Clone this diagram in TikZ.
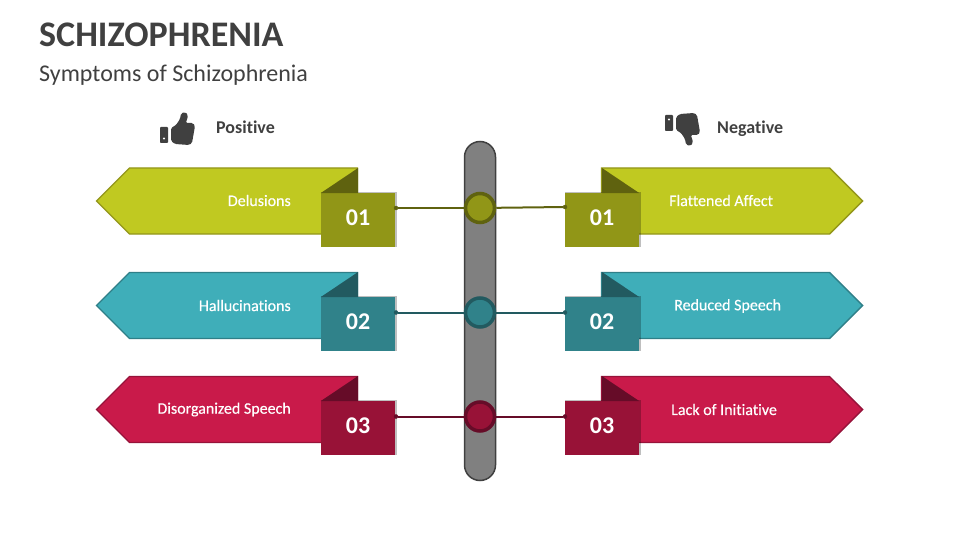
\documentclass[tikz,border=0pt]{standalone}
\usepackage{fontspec}
\setmainfont[Ligatures=NoCommon]{Carlito}
\newfontfamily\itemfont[Ligatures=NoCommon,FakeBold=0.35]{Carlito}
\usepackage{tikz}
\usetikzlibrary{positioning,shapes.symbols,shadows}
\definecolor{limeclr}{HTML}{C0C921}
\definecolor{limeedge}{HTML}{93961A}
\definecolor{limebox}{HTML}{919617}
\definecolor{limedark}{HTML}{5F620F}
\definecolor{tealclr}{HTML}{3FAEB9}
\definecolor{tealedge}{HTML}{2F7F88}
\definecolor{tealbox}{HTML}{30828A}
\definecolor{tealdark}{HTML}{225A60}
\definecolor{redclr}{HTML}{C91A4A}
\definecolor{rededge}{HTML}{96133A}
\definecolor{redbox}{HTML}{981237}
\definecolor{reddark}{HTML}{660C28}
\definecolor{inkclr}{HTML}{404040}
\tikzset{ %
  ,x=1pt,y=-1pt
  ,title/.style={anchor=west, inner sep=0, font=\bfseries\fontsize{36}{36}\selectfont, text=inkclr}
  ,subtitle/.style={anchor=west, inner sep=0, font=\fontsize{24}{24}\selectfont, text=inkclr}
  ,head/.style={anchor=west, inner sep=0, font=\bfseries\fontsize{18}{18}\selectfont, text=inkclr}
  ,bannerL/.style={draw=#1edge, fill=#1clr, line width=1.4pt, shape=signal, signal to=west, signal from=nowhere, signal pointer angle=90, inner sep=0, minimum width=261pt, minimum height=66pt}
  ,bannerR/.style={draw=#1edge, fill=#1clr, line width=1.4pt, shape=signal, signal to=east, signal from=nowhere, signal pointer angle=90, inner sep=0, minimum width=261pt, minimum height=66pt}
  ,numbox/.style={fill=#1box, inner sep=0, minimum width=74pt, minimum height=53.5pt, text=white, font=\bfseries\fontsize{24}{24}\selectfont, drop shadow={shadow xshift=.6pt, shadow yshift=.6pt, shadow scale=1.03, fill=black, opacity=.25}}
  ,itemL/.style={anchor=east, inner sep=0, text=white, font=\itemfont\fontsize{16}{16}\selectfont}
  ,itemR/.style={anchor=west, inner sep=0, text=white, font=\itemfont\fontsize{16}{16}\selectfont}
  ,dot/.style={draw=#1dark, fill=#1dark, circle, inner sep=0, minimum size=4pt}
  ,hub/.style={draw=#1dark, fill=#1box, circle, line width=3.5pt, inner sep=0, minimum size=29pt}
  ,link/.style={draw=#1dark, line width=2pt}
  ,fold/.style={fill=#1dark}
  ,bar/.style={draw=inkclr, fill=gray, line width=1.5pt, rounded corners=15.5pt, inner sep=0, minimum width=31pt, minimum height=339pt}
}
\newcommand{\thumbicon}{%
  \fill[inkclr, rounded corners=.8pt] (160,127) rectangle (168,143);
  \fill[white] (164,138.5) circle (1.2);
  \fill[inkclr, rounded corners=1.5pt] (171,128) -- (176,125) -- (180,119) -- (181,113.5) -- (185,112) -- (188,115) -- (187,120) -- (185.5,123) -- (193,123) -- (195,126) -- (192,143) -- (189,145) -- (175,144) -- (171,141) -- cycle;
}

\begin{document}
\begin{tikzpicture}
  \useasboundingbox (0,0) rectangle (960,540);
  \node[title] (ttl) at (39,35) {SCHIZOPHRENIA};
  \node[subtitle] (sub) at (39,75.5) {Symptoms of Schizophrenia};
  \thumbicon
  \begin{scope}[shift={(505,258)},yscale=-1]
    \thumbicon
  \end{scope}
  \node[head] (pos) at (216,127.5) {Positive};
  \node[head] (neg) at (717,129) {Negative};
  \node[bar] (axis) at (480,311) {};

  % banners
  \draw
  node[bannerL=lime] (bL1) at (243.5,201) {}
  node[bannerL=teal] (bL2) at (243.5,305.5) {}
  node[bannerL=red] (bL3) at (243.5,409.5) {}
  node[bannerR=lime] (bR1) at (715.5,201) {}
  node[bannerR=teal] (bR2) at (715.5,305.5) {}
  node[bannerR=red] (bR3) at (715.5,409.5) {};

  % number boxes
  \draw
  node[numbox=lime] (nL1) at (358,220) {\raisebox{5pt}{01}}
  node[numbox=teal] (nL2) at (358,324) {\raisebox{5pt}{02}}
  node[numbox=red] (nL3) at (358,428) {\raisebox{5pt}{03}}
  node[numbox=lime] (nR1) at (602,220) {\raisebox{5pt}{01}}
  node[numbox=teal] (nR2) at (602,324) {\raisebox{5pt}{02}}
  node[numbox=red] (nR3) at (602,428) {\raisebox{5pt}{03}};

  % folds
  \fill[fold=lime] (nL1.north west) -- (nL1.north) -- ++(0,-25) -- cycle;
  \fill[fold=teal] (nL2.north west) -- (nL2.north) -- ++(0,-25) -- cycle;
  \fill[fold=red] (nL3.north west) -- (nL3.north) -- ++(0,-25) -- cycle;
  \fill[fold=lime] (nR1.north east) -- (nR1.north) -- ++(0,-25) -- cycle;
  \fill[fold=teal] (nR2.north east) -- (nR2.north) -- ++(0,-25) -- cycle;
  \fill[fold=red] (nR3.north east) -- (nR3.north) -- ++(0,-25) -- cycle;

  % texts
  \draw
  node[itemL] (tL1) at (291,200.5) {Delusions}
  node[itemL] (tL2) at (291,305.5) {Hallucinations}
  node[itemL] (tL3) at (291,409.5) {Disorganized Speech}
  node[itemR] (tR1) at (669,200.5) {Flattened Affect}
  node[itemR] (tR2) at (674,306) {Reduced Speech}
  node[itemR] (tR3) at (671,409.5) {Lack of Initiative};

  % hubs and dots
  \draw
  node[hub=lime] (h1) at (480,208) {}
  node[hub=teal] (h2) at (480,312.5) {}
  node[hub=red] (h3) at (480,416.5) {}
  node[dot=lime] (dL1) at (396,208) {}
  node[dot=teal] (dL2) at (396,312.5) {}
  node[dot=red] (dL3) at (396,416.5) {}
  node[dot=lime] (dR1) at (565,207) {}
  node[dot=teal] (dR2) at (565,312.5) {}
  node[dot=red] (dR3) at (565,416.5) {};
  \draw[link=lime] (dL1) -- (h1);
  \draw[link=lime] (h1) -- (dR1);
  \draw[link=teal] (dL2) -- (h2);
  \draw[link=teal] (h2) -- (dR2);
  \draw[link=red] (dL3) -- (h3);
  \draw[link=red] (h3) -- (dR3);
\end{tikzpicture}
\end{document}
